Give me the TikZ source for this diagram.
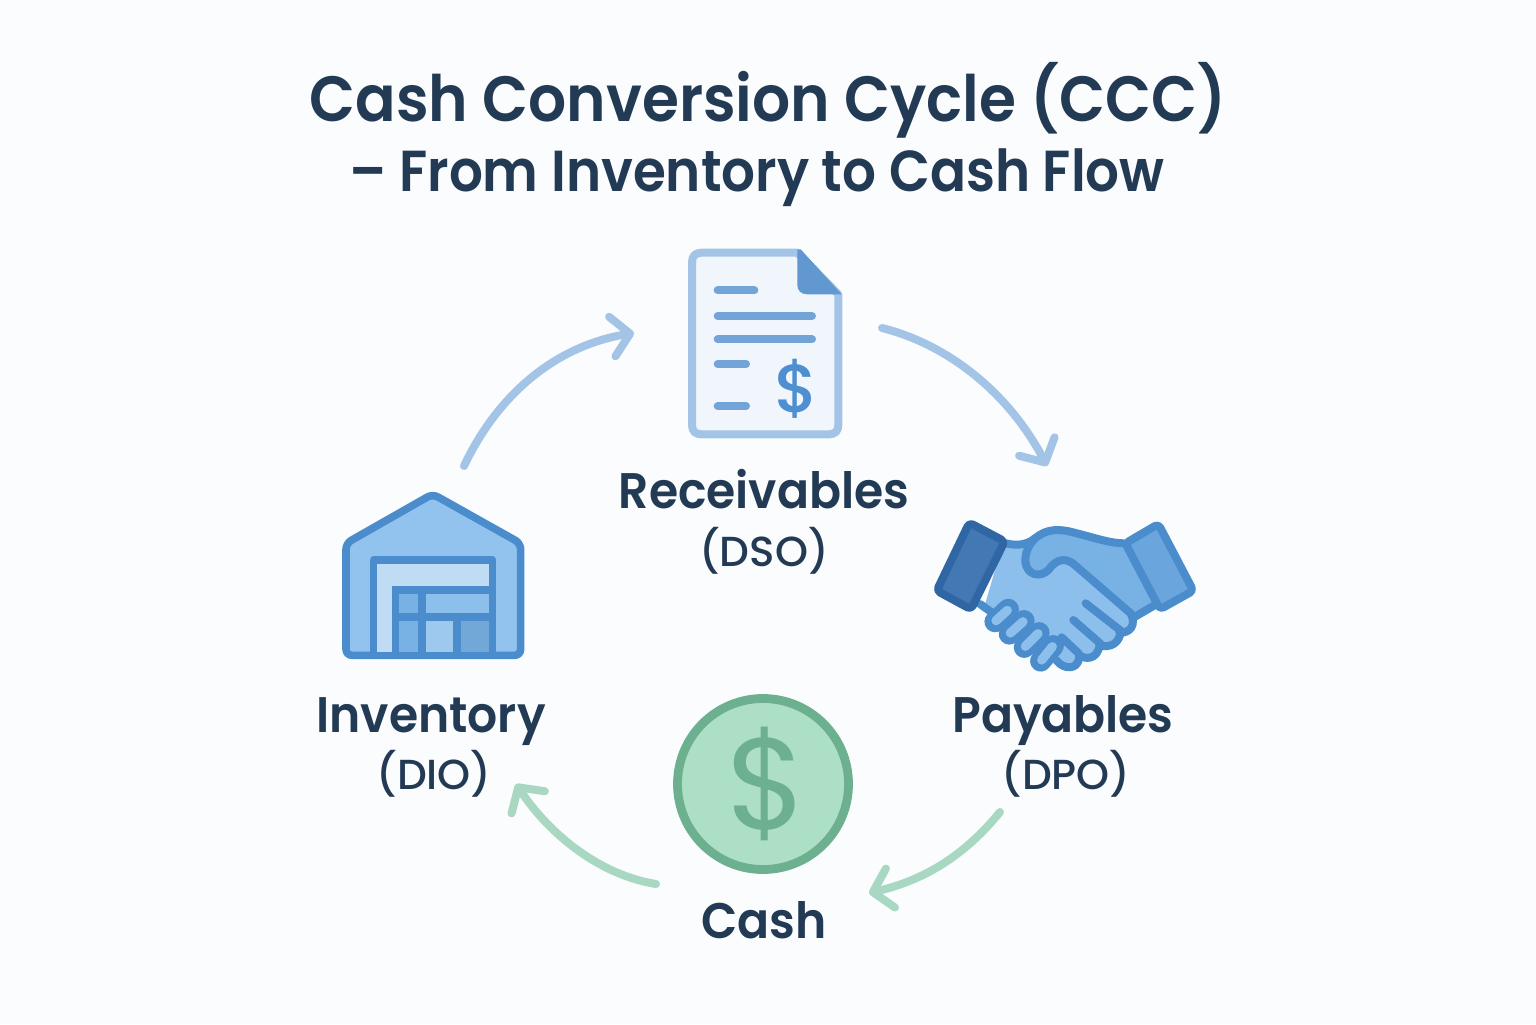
\documentclass[tikz,border=0pt]{standalone}
\usepackage{fontspec}
\setmainfont{Poppins}
\newfontfamily\medfont{Poppins Medium}
\newfontfamily\semifont{Poppins SemiBold}
\newfontfamily\titlefont[FakeStretch=0.935]{Poppins SemiBold}
\newfontfamily\titlefontb[FakeStretch=0.92]{Poppins SemiBold}
\newfontfamily\labelfont[FakeStretch=0.945]{Poppins SemiBold}
\usetikzlibrary{arrows.meta}
\definecolor{bgc}{HTML}{FAFCFE}
\definecolor{ink}{HTML}{233A54}
\definecolor{flowblue}{HTML}{A3C4E6}
\definecolor{flowgreen}{HTML}{A8D8C2}
\definecolor{edge}{HTML}{4A8CCC}
\definecolor{body}{HTML}{8DBFEC}
\definecolor{bodyd}{HTML}{78B1E4}
\definecolor{wall}{HTML}{92C2EE}
\definecolor{cuffl}{HTML}{4279B5}
\definecolor{cuffle}{HTML}{2F66A3}
\definecolor{cuffr}{HTML}{6AA5DE}
\definecolor{coin}{HTML}{ACDFC4}
\definecolor{coine}{HTML}{6CB08F}
\definecolor{paper}{HTML}{F1F6FC}
\definecolor{fold}{HTML}{6198D0}
\definecolor{rule}{HTML}{72A4D8}
\definecolor{dollar}{HTML}{4D8FD1}
\tikzset{
  titletext/.style={anchor=base,text=ink,font=\titlefont\fontsize{32}{33}\selectfont,inner sep=0pt},
  titletextb/.style={anchor=base,text=ink,font=\titlefontb\fontsize{28.9}{33}\selectfont,inner sep=0pt},
  labeltext/.style={anchor=base,text=ink,font=\labelfont\fontsize{25}{25}\selectfont,inner sep=0pt},
  subtext/.style={anchor=base,text=ink,font=\medfont\fontsize{21}{21}\selectfont,inner sep=0pt},
  flow/.style={line width=4pt,line cap=round,line join=round,-{Straight Barb[length=9pt,width=20pt,line width=4pt,round]}},
  wh/.style={draw=edge,line width=3.8pt,line join=round},
  rulel/.style={draw=rule,line width=4pt,line cap=round},
  hline/.style={draw=edge,line width=4pt,line cap=round,line join=round},
}
\begin{document}
\begin{tikzpicture}[x=0.5pt,y=-0.5pt]
\useasboundingbox (0,0) rectangle (1536,1024);
\fill[bgc] (0,0) rectangle (1536,1024);
% title
\node[titletext] (t1) at (768,121) {Cash Conversion Cycle (CCC)};
\node[titletextb] (t2) at (757,191) {– From Inventory to Cash Flow};
% invoice
\begin{scope}[shift={(670,240)},scale=1/3]
\draw[draw=flowblue,fill=paper,line width=4pt,line join=round] (95,38) -- (382,38) -- (505,163) -- (505,554) .. controls (505,574) and (495,583) .. (476,583) -- (95,583) .. controls (76,583) and (66,574) .. (66,554) -- (66,67) .. controls (66,48) and (76,38) .. (95,38) -- cycle;
\fill[fold] (382,28) -- (392,28) -- (515,163) -- (412,163) .. controls (392,163) and (382,150) .. (382,135) -- cycle;
\draw[rulel] (143,151) -- (253,151);
\draw[rulel] (143,228) -- (426,228);
\draw[rulel] (143,298) -- (426,298);
\draw[rulel] (143,372) -- (228,372);
\draw[rulel] (143,498) -- (228,498);
\node[text=dollar,font=\medfont\fontsize{34}{34}\selectfont,inner sep=0pt] (invd) at (380,447) {\$};
\end{scope}
\node[labeltext] (rec) at (764,508) {Receivables};
\node[subtext] (dso) at (764,566) {(DSO)};
% warehouse
\begin{scope}[shift={(330,480)},scale=1/3]
\draw[wh,fill=wall,rounded corners=3pt] (48,526) -- (48,190) -- (308,42) -- (572,190) -- (572,526) -- cycle;
\draw[wh,fill=body!55!white] (131,526) -- (131,240) -- (488,240) -- (488,526) -- cycle;
\fill[edge] (186,318) rectangle (499,526);
\fill[bodyd] (208,342) rectangle (264,398);
\fill[body] (288,342) rectangle (477,398);
\fill[bodyd] (208,424) rectangle (264,515);
\fill[body!85!white] (288,424) rectangle (370,515);
\fill[bodyd!95!black] (393,424) rectangle (477,515);
\end{scope}
\node[labeltext] (inv) at (431,732) {Inventory};
\node[subtext] (dio) at (434,789) {(DIO)};
% handshake
\begin{scope}[shift={(920,500)},scale=1/3]
% main body
\fill[body] (250,125) -- (612,130) -- (700,310) -- (640,345) .. controls (650,385) and (625,400) .. (598,398) .. controls (595,430) and (570,445) .. (540,438) .. controls (535,470) and (510,482) .. (480,470) .. controls (475,505) and (445,510) .. (420,495) -- (190,330) -- cycle;
\fill[bodyd] (330,130) .. controls (360,85) and (420,85) .. (470,100) .. controls (520,112) and (570,130) .. (612,130) -- (700,310) -- (640,345) -- (470,200) .. controls (440,170) and (410,175) .. (385,210) .. controls (360,235) and (320,225) .. (316,185) -- cycle;
\draw[hline] (258,130) .. controls (290,138) and (320,135) .. (345,115) .. controls (380,85) and (420,85) .. (470,100) .. controls (520,112) and (570,130) .. (612,130);
\draw[hline] (345,115) .. controls (325,135) and (315,160) .. (316,185) .. controls (320,225) and (360,235) .. (385,210) .. controls (410,175) and (440,170) .. (470,200) -- (632,340) .. controls (650,375) and (630,400) .. (598,398);
\draw[hline] (497,310) -- (602,392) .. controls (600,430) and (570,445) .. (538,436);
\draw[hline] (460,360) -- (540,430) .. controls (535,470) and (510,482) .. (480,468);
\draw[hline] (425,412) -- (478,462) .. controls (480,505) and (445,510) .. (420,492) -- (400,472);
\draw[hline] (645,350) -- (705,315);
\draw[hline] (180,312) -- (212,335);
% knuckles
\foreach \a/\b/\c/\d in {225/365/265/328,268/402/312/362,313/442/357/398,362/483/400/437}{
  \draw[draw=edge,line width=10.6pt,line cap=round] (\a,\b) -- (\c,\d);
}
\foreach \a/\b/\c/\d in {228/362/262/331,271/399/309/365,316/439/354/401,365/480/397/440}{
  \draw[draw=body,line width=4.6pt,line cap=round] (\a,\b) -- (\c,\d);
}
% cuffs
\draw[draw=cuffle,fill=cuffl,line width=4pt,line join=round,rounded corners=2pt] (148,68) -- (254,124) -- (153,328) -- (50,272) -- cycle;
\draw[draw=edge,fill=cuffr,line width=4pt,line join=round,rounded corners=2pt] (715,72) -- (820,272) -- (720,328) -- (616,130) -- cycle;
\end{scope}
\node[labeltext] (pay) at (1063,732) {Payables};
\node[subtext] (dpo) at (1066,789) {(DPO)};
% coin
\node[circle,draw=coine,fill=coin,line width=4.4pt,minimum size=85.5pt,inner sep=0pt] (coinn) at (763,784) {};
\node[text=coine,font=\fontsize{65}{65}\selectfont,inner sep=0pt] (coind) at (767,784) {\$};
\node[labeltext] (cash) at (764,938) {Cash};
% flows
\coordinate (a1s) at (464,466); \coordinate (a1e) at (634,333);
\coordinate (a2s) at (882,328); \coordinate (a2e) at (1047,466);
\coordinate (a3s) at (1000,812); \coordinate (a3e) at (869,893);
\coordinate (a4s) at (656,884); \coordinate (a4e) at (516,784);
\draw[flow,draw=flowblue] (a1s) .. controls (500,390) and (560,345) .. (a1e);
\draw[flow,draw=flowblue] (a2s) .. controls (950,345) and (1010,395) .. (a2e);
\draw[flow,draw=flowgreen] (a3s) .. controls (965,855) and (925,880) .. (a3e);
\draw[flow,draw=flowgreen] (a4s) .. controls (600,875) and (550,835) .. (a4e);
\end{tikzpicture}
\end{document}
